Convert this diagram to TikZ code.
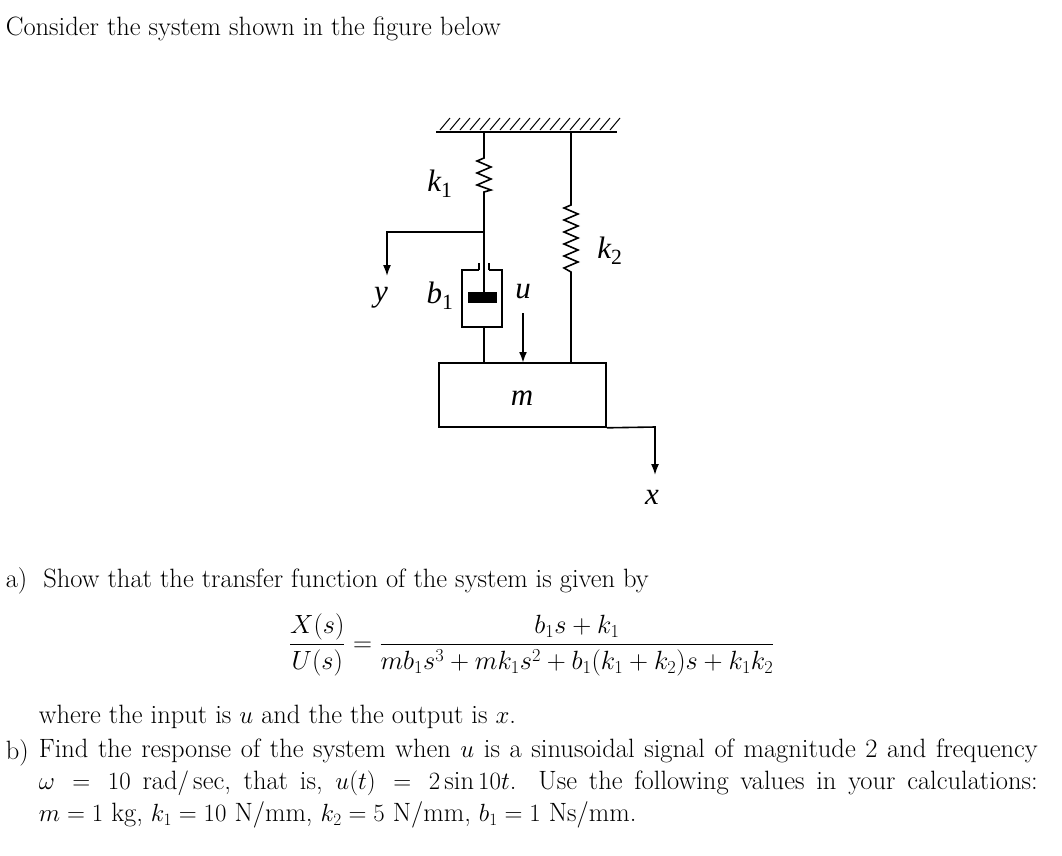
\documentclass[tikz,border=0pt]{standalone}
\usepackage{amsmath}
\usepackage{fontspec}
\newfontfamily\labfont{Liberation Serif}
\begin{document}
\begin{tikzpicture}[x=1pt,y=-1pt,line width=1.6pt,
  txt/.style={anchor=base west,inner sep=0pt,font=\fontsize{26.5}{31}\selectfont},
  lbl/.style={inner sep=0pt,font=\fontsize{31}{36}\selectfont\labfont\itshape},
  arr/.style={-{Latex[length=11pt,width=8pt]}}]
\useasboundingbox (0,0) rectangle (1062,855);
\usetikzlibrary{arrows.meta}
% ceiling
\draw (436,132) -- (617,132);
\foreach \i in {0,...,17}{\draw[line width=1pt] (440+\i*10,130) -- (450+\i*10,118);}
% k1 branch
\coordinate (top1) at (484,132);
\coordinate (s1a) at (484,158);
\coordinate (s1b) at (484,192);
\coordinate (j) at (484,232);
\draw (top1) -- (s1a) -- (477,161) -- (491,167) -- (477,173) -- (491,179) -- (477,185) -- (491,190) -- (s1b) -- (j) -- (484,292);
\fill (468,292) rectangle (497,303);
% damper
\draw (479,270) -- (462,270) -- (462,327) -- (502,327) -- (502,270) -- (489,270);
\draw[line width=1.2pt] (479,270) -- (479,263) (489,270) -- (489,263);
\node[draw,minimum width=167pt,minimum height=64pt,inner sep=0pt] (m) at (522.5,395) {};
\draw (484,327) -- (484,363);
% y arrow
\coordinate (yend) at (387,276);
\draw[arr] (j) -- (387,232) -- (yend);
% k2
\draw (571,132) -- (571,205) -- (564,208) -- (578,214) -- (564,220) -- (578,226) -- (564,232) -- (578,238) -- (564,244) -- (578,250) -- (564,256) -- (578,262) -- (564,268) -- (571,272) -- (571,363);
% u arrow
\draw[arr,line width=2.2pt] (523,313) -- (523,363);
% x arrow
\draw[arr] (m.south east) -- (655,427) -- (655,475);
% labels
\node[lbl] at (440,184) {k\textsubscript{\upshape 1}};
\node[lbl] at (610,251) {k\textsubscript{\upshape 2}};
\node[lbl] at (381,298) {y};
\node[lbl] at (440,296) {b\textsubscript{\upshape 1}};
\node[lbl] at (523,292) {u};
\node[lbl] at (522,398) {m};
\node[lbl] at (652,497) {x};
% text
\node[txt] at (5,35) {Consider the system shown in the figure below};
\node[txt] at (5,587) {a)\ \ Show that the transfer function of the system is given by};
\node[anchor=west,inner sep=0pt,scale=1.06,font=\fontsize{26.5}{31}\selectfont] at (288,645)
 {$\displaystyle\frac{X(s)}{U(s)}=\frac{b_1s+k_1}{mb_1s^3+mk_1s^2+b_1(k_1+k_2)s+k_1k_2}$};
\node[txt] at (38,723) {where the input is $u$ and the the output is $x$.};
\node[txt] at (5,759) {b)};
\node[anchor=north west,inner sep=0pt,text width=999pt,align=justify,font=\fontsize{26.5}{32}\selectfont] at (38,738)
 {Find the response of the system when $u$ is a sinusoidal signal of magnitude 2 and frequency $\omega\,=\,10\ \mathrm{rad/\,sec}$, that is, $u(t)\,=\,2\sin 10t$. Use the following values in your calculations:\linebreak $m=1$ kg, $k_1=10$ N/mm, $k_2=5$ N/mm, $b_1=1$ Ns/mm.};
\end{tikzpicture}
\end{document}
